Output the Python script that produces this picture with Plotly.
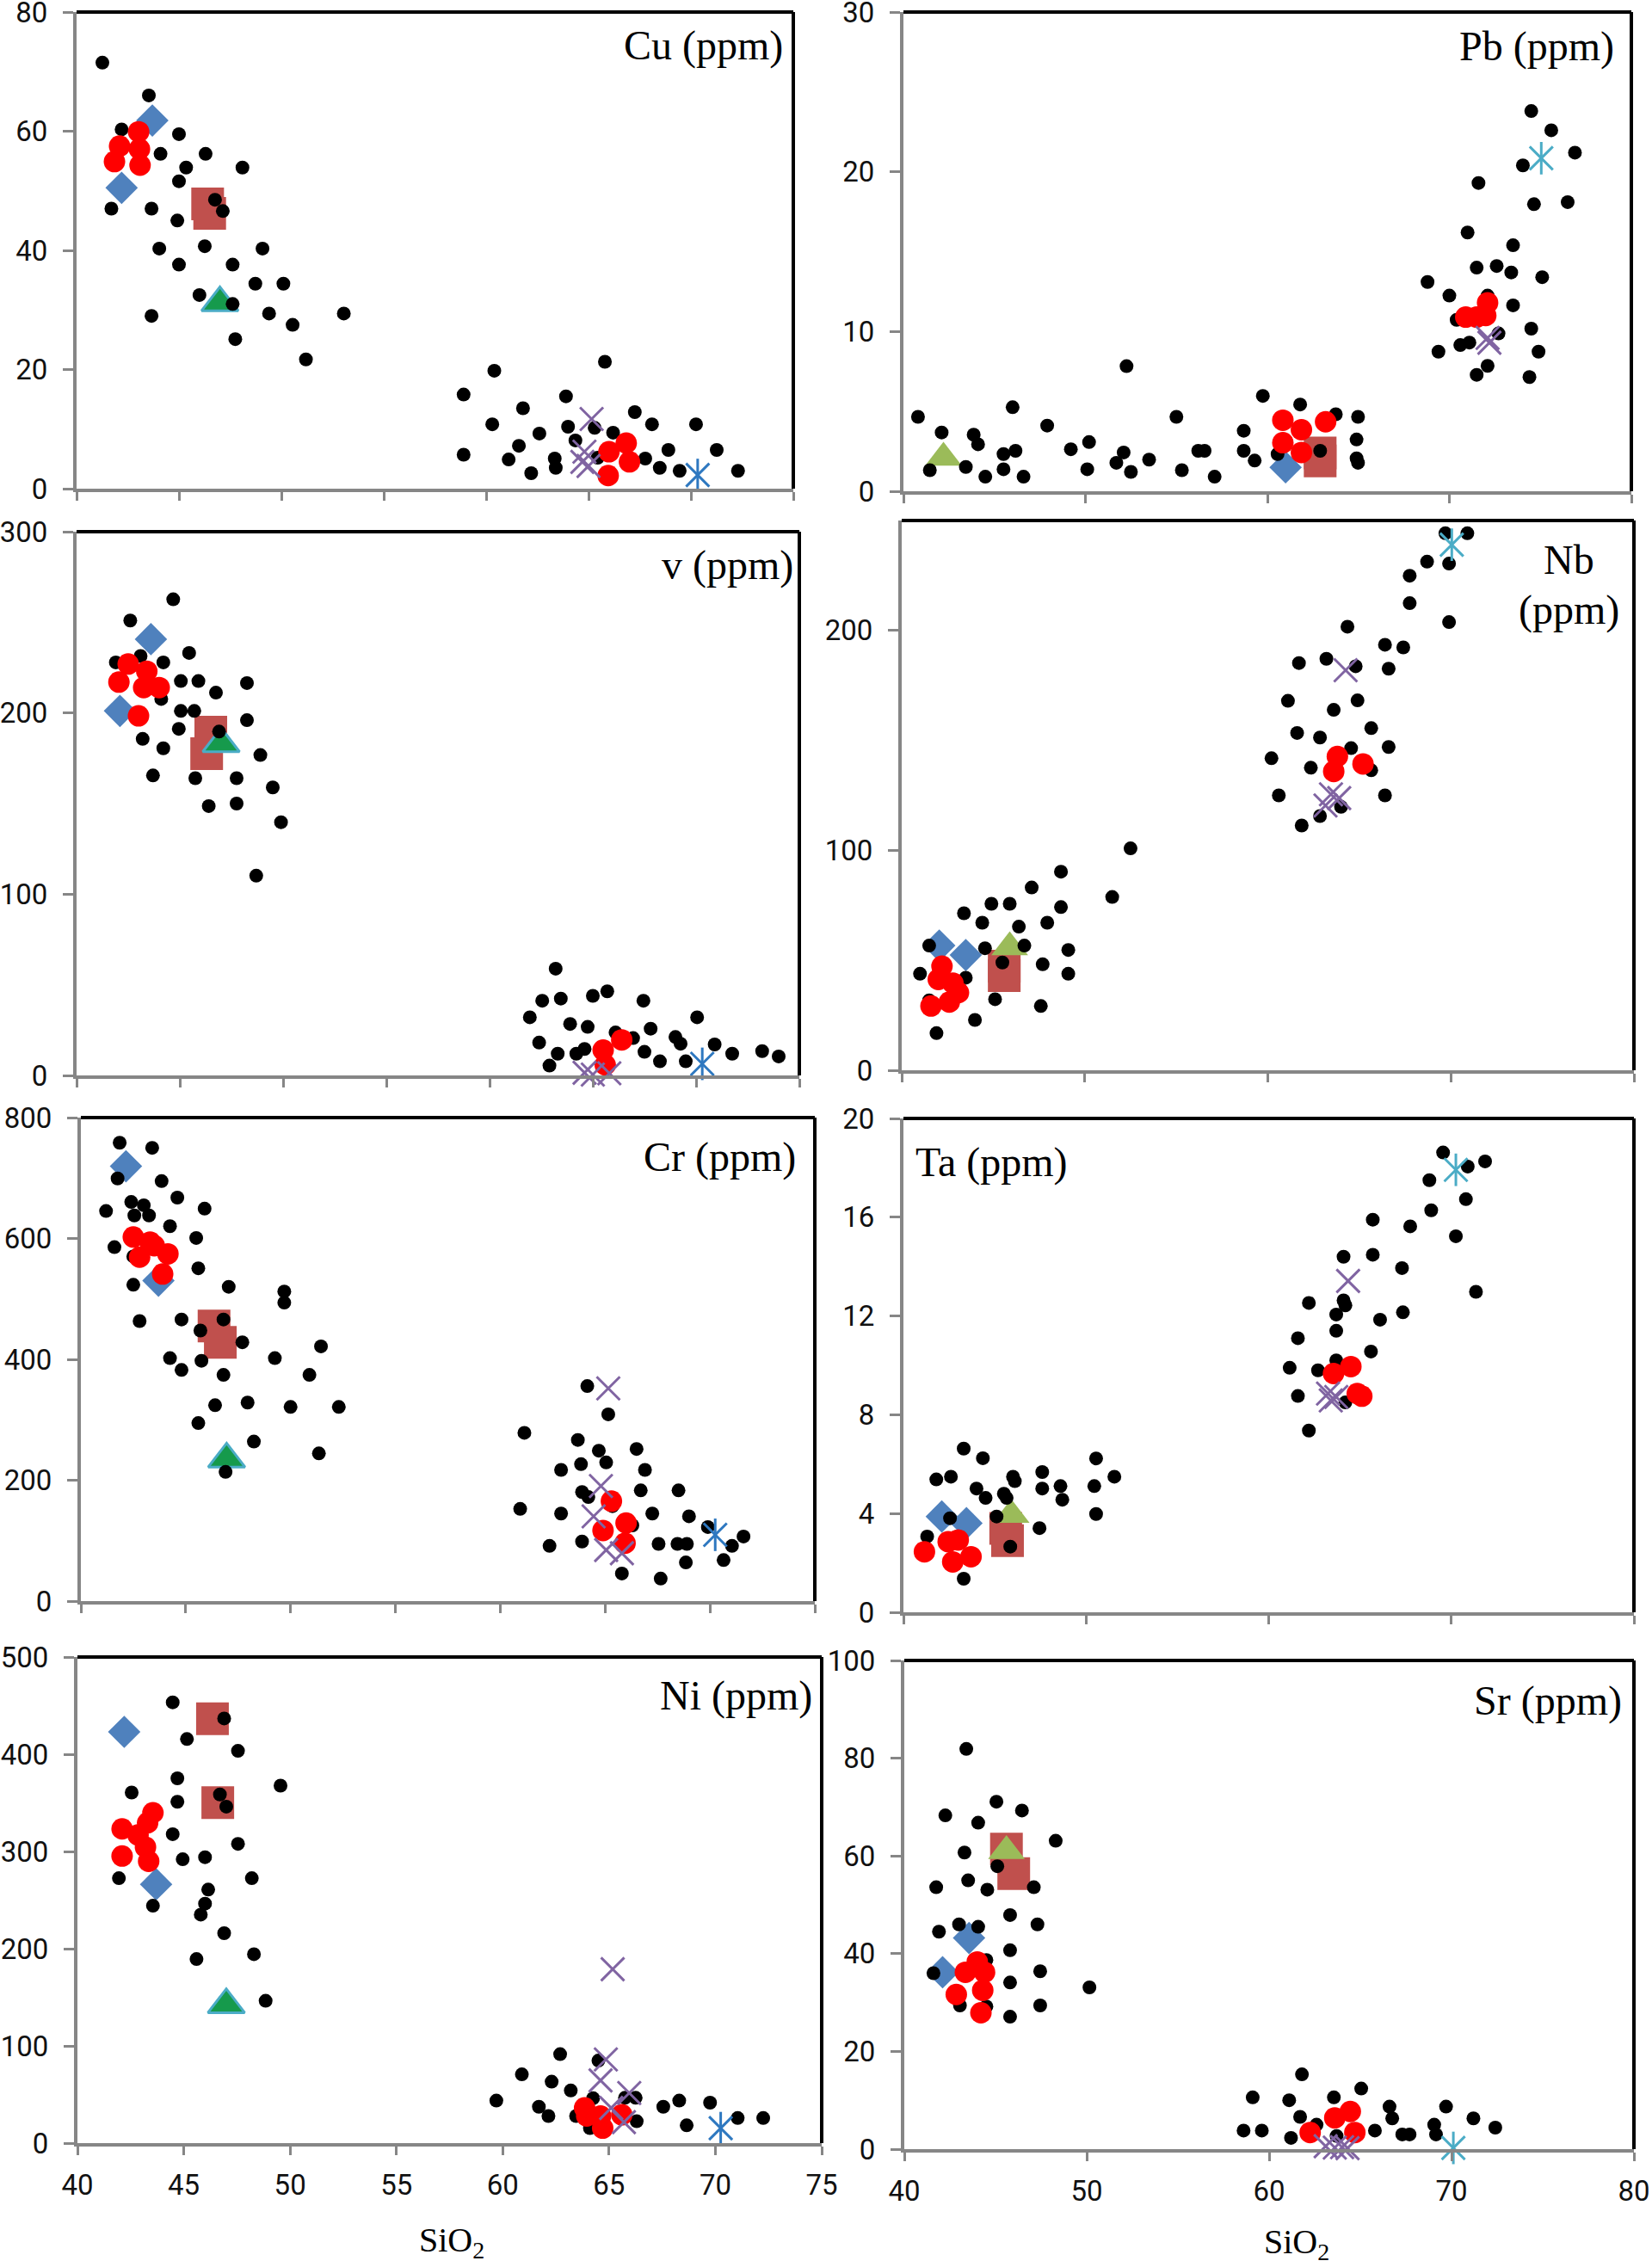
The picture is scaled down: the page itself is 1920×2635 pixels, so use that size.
import plotly.graph_objects as go

# ---------------- DATA (SiO2, ppm) ----------------
CU_DOTS = [(41.26,71.5),(43.53,66.0),(42.2,60.3),(45.0,59.5),(44.1,56.2),(46.3,56.2),(45.35,53.9),(48.1,53.9),
           (45.0,51.6),(41.7,47.0),(43.66,47.0),(46.76,48.5),(47.14,46.6),(44.92,45.0),(44.04,40.3),(46.26,40.7),
           (49.08,40.3),(45.0,37.6),(47.62,37.6),(48.73,34.4),(50.1,34.4),(46.0,32.5),(47.62,31.0),(43.66,29.0),
           (49.4,29.4),(53.05,29.4),(50.55,27.5),(47.75,25.1),(51.2,21.7),
           (58.9,15.8),(60.4,19.8),(65.8,21.3),(63.9,15.5),(61.8,13.5),(60.3,10.8),(62.6,9.25),(64.0,10.4),
           (65.3,10.2),(66.2,9.4),(67.26,12.85),(68.1,10.8),(70.25,10.8),(61.6,7.2),(64.36,8.1),(58.9,5.7),
           (61.1,4.9),(63.35,5.05),(63.4,3.5),(62.2,2.6),(67.77,5.05),(68.9,6.5),(68.48,3.5),(69.45,3.0),
           (71.26,6.5),(72.3,3.0),(65.45,5.2)]
CU_RED = [(41.85,54.9),(42.1,57.5),(43.03,59.9),(43.1,54.3),(43.07,57.0),(66.0,6.2),(66.84,7.65),(67.0,4.5),(65.96,2.2)]
CU_DIAMOND = [(43.7,61.8),(42.2,50.5)]
CU_SQUARE = [(46.4,47.8),(46.5,46.2)]
CU_TRIANGLE = [(47.0,31.2)]
CU_X = [(65.15,11.7),(64.8,6.2),(64.7,4.5),(65.0,3.8)]
CU_STAR = [(70.33,2.3)]

PB_DOTS = [(40.8,4.66),(41.45,1.32),(42.1,3.68),(43.43,1.52),(43.86,3.54),(44.1,2.94),(44.5,0.91),(45.5,2.33),
           (45.5,1.38),(46.16,2.53),(46.0,5.26),(46.6,0.91),(47.9,4.11),(49.2,2.63),(50.2,3.08),(50.1,1.38),
           (51.7,1.78),(52.1,2.43),(52.5,1.21),(52.26,7.83),(53.5,1.98),(55.0,4.66),(55.3,1.32),(56.2,2.53),
           (56.55,2.53),(57.1,0.91),(58.7,3.79),(58.7,2.53),(59.3,1.92),(59.75,5.97),(60.56,2.33),(61.8,5.43),
           (62.9,2.53),(63.76,4.82),(64.98,4.66),(64.9,3.24),(64.9,2.06),(64.98,1.78),
           (74.5,23.8),(75.6,22.6),(76.9,21.2),(74.04,20.4),(71.6,19.3),(74.65,17.97),(76.5,18.1),(71.0,16.2),
           (73.5,15.4),(71.5,14.0),(72.6,14.1),(73.4,13.7),(75.1,13.4),(68.8,13.1),(70.0,12.25),(72.1,12.25),
           (73.5,11.64),(70.4,10.73),(74.5,10.18),(72.7,9.88),(70.6,9.15),(71.1,9.31),(69.4,8.74),(74.9,8.74),
           (72.1,7.85),(71.5,7.29),(74.4,7.15)]
PB_RED = [(60.85,4.45),(60.85,3.04),(61.87,3.85),(61.87,2.43),(63.2,4.35),(70.9,10.9),(71.5,10.9),(72.1,11.8),(72.0,11.0)]
PB_DIAMOND = [(61.0,1.5)]
PB_SQUARE = [(62.9,2.4),(62.9,1.9)]
PB_TRIANGLE = [(42.2,2.1)]
PB_X = [(72.1,9.6),(72.2,9.3)]
PB_STAR = [(75.05,20.85)]

V_DOTS = [(44.68,262.7),(42.6,251.0),(41.9,227.9),(43.1,231.4),(44.2,227.9),(45.45,233.1),(45.05,217.6),(45.9,217.6),
          (46.75,211.2),(48.25,216.5),(44.1,207.7),(45.05,201.1),(45.7,201.1),(44.95,191.2),(46.9,189.7),(48.25,196.0),
          (43.2,185.7),(44.2,180.5),(48.9,176.8),(43.7,165.5),(45.75,164.0),(47.75,164.0),(49.5,158.9),(46.4,148.6),
          (47.75,150.0),(49.9,139.7),(48.7,110.2),
          (63.2,58.9),(62.55,41.2),(63.45,42.4),(65.0,43.9),(65.7,46.4),(67.45,41.2),(61.95,32.1),(63.9,28.4),
          (64.75,26.8),(70.05,32.1),(67.8,25.8),(66.1,23.7),(66.95,20.6),(69.0,21.2),(69.25,17.5),(70.9,17.1),
          (62.4,18.1),(63.3,12.0),(64.2,12.0),(64.6,14.6),(67.5,13.0),(68.25,7.8),(69.5,7.8),(71.75,12.0),
          (73.2,13.4),(74.0,10.5),(62.9,5.4)]
V_RED = [(42.05,217),(42.5,227),(43.4,223),(43.25,214),(44.0,214),(43.0,198.4),(65.5,14),(65.6,5.8),(66.4,19.6)]
V_DIAMOND = [(43.6,240.7),(42.1,201.1)]
V_SQUARE = [(46.5,189.4),(46.3,177.5)]
V_TRIANGLE = [(47.0,183.0)]
V_X = [(64.6,1.5),(65.0,0.5),(65.8,1.2)]
V_STAR = [(70.3,6.4)]

NB_DOTS = [(69.7,244.2),(70.9,244.2),(68.7,231.3),(69.9,230.4),(67.75,224.9),(67.75,212.4),(69.9,203.8),(64.35,201.7),
           (66.4,193.5),(67.4,192.3),(61.7,185.2),(63.2,187.1),(64.8,183.7),(66.6,182.6),(61.1,168.0),(64.9,168.2),
           (63.6,163.9),(65.65,155.6),(61.6,153.4),(62.85,151.3),(64.55,146.5),(66.6,147.0),(60.2,141.9),(62.35,137.6),
           (65.65,136.4),(60.6,125.0),(66.4,125.0),(64.0,119.8),(62.85,115.6),(61.85,111.3),
           (52.5,100.9),(51.5,78.8),(48.7,90.3),(47.1,83.1),(44.9,75.7),(45.9,75.7),(43.4,71.4),(48.7,74.2),
           (44.4,67.1),(46.4,65.3),(47.95,67.1),(41.5,56.7),(44.55,55.5),(46.7,56.7),(49.1,54.7),(45.5,49.0),
           (47.7,48.2),(41.0,43.9),(43.5,42.1),(49.1,43.9),(45.1,32.3),(47.6,29.2),(44.0,22.9),(41.9,16.9),(41.5,31.8)]
NB_RED = [(42.2,47.3),(42.0,41.3),(42.8,39.6),(43.1,35.3),(41.6,29.2),(42.6,31.0),(63.8,142.7),(63.6,135.9),(65.2,139.3)]
NB_DIAMOND = [(42.05,56.7),(43.5,52.4)]
NB_SQUARE = [(45.6,47.3),(45.6,43.0)]
NB_TRIANGLE = [(45.9,55.9)]
NB_X = [(64.25,181.9),(63.45,125.5),(63.15,120.4),(63.9,123.8)]
NB_STAR = [(70.05,239.0)]

CR_DOTS = [(41.85,758.4),(43.4,750.0),(41.75,699.3),(43.85,694.9),(44.6,667.6),(42.4,660.4),(43.0,654.9),(45.9,649.3),
           (41.2,645.4),(42.55,638.1),(43.25,638.1),(44.25,620.3),(45.5,600.8),(41.6,585.7),(42.5,570.2),(45.6,550.7),
           (42.5,523.4),(47.05,520.0),(49.7,512.2),(49.7,493.9),(42.8,463.3),(44.8,466.0),(46.8,466.0),(45.7,447.7),
           (47.7,428.2),(51.45,421.5),(44.25,402.0),(49.25,402.0),(45.75,397.6),(44.8,382.5),(46.8,374.2),(50.9,374.2),
           (46.4,324.1),(47.95,328.5),(50.0,321.3),(52.3,321.3),(45.6,294.5),(48.25,263.9),(51.35,244.4),(46.9,213.8),
           (64.15,355.8),(65.15,309.0),(61.15,278.4),(63.7,266.7),(64.7,248.9),(66.5,251.7),(63.85,226.6),(65.05,229.4),
           (62.9,217.1),(66.9,217.1),(63.9,180.4),(64.2,172.1),(66.7,183.2),(68.5,183.2),(60.95,152.6),(62.9,144.8),
           (65.35,157.0),(67.25,144.8),(69.0,140.3),(66.3,125.3),(69.9,122.5),(62.35,91.3),(63.9,98.6),(67.55,94.7),
           (68.45,94.7),(68.9,94.7),(71.05,91.3),(71.6,106.9),(68.85,64.0),(70.65,67.9),(65.8,45.7),(67.65,37.3)]
CR_RED = [(42.5,602.4),(43.3,594.1),(42.8,569.0),(44.15,574.5),(43.9,541.2),(43.5,588.0),
          (65.3,165.4),(64.9,116.9),(66.0,129.2),(65.95,95.8)]
CR_DIAMOND = [(42.15,719.4),(43.7,530.1)]
CR_SQUARE = [(46.35,455.0),(46.65,428.0)]
CR_TRIANGLE = [(46.95,235.0)]
CR_X = [(65.15,351.9),(64.8,190.4),(64.45,140.3),(65.05,84.6),(65.8,79.1)]
CR_STAR = [(70.25,109.7)]

TA_DOTS = [(69.55,18.62),(71.85,18.26),(70.9,18.05),(68.8,17.5),(70.8,16.73),(68.9,16.28),(65.7,15.9),(67.75,15.63),
           (70.25,15.23),(64.1,14.4),(65.7,14.48),(67.3,13.94),(71.35,12.98),(62.2,12.53),(64.1,12.63),(64.2,12.43),
           (63.7,12.06),(67.35,12.15),(66.1,11.85),(61.6,11.1),(63.7,11.4),(65.6,10.56),(61.15,9.9),(62.7,9.8),
           (63.7,10.2),(61.6,8.76),(64.2,8.5),(62.2,7.36),
           (43.3,6.63),(44.35,6.24),(50.55,6.23),(41.8,5.38),(42.6,5.49),(46.0,5.49),(46.1,5.31),(47.6,5.68),
           (47.6,5.01),(48.6,5.11),(51.55,5.49),(50.45,5.11),(44.0,5.01),(44.5,4.63),(45.5,4.8),(45.65,4.63),
           (48.7,4.56),(50.55,3.98),(42.55,3.81),(45.1,3.88),(47.45,3.41),(41.3,3.07),(45.85,2.66),(43.3,1.36)]
TA_RED = [(41.15,2.45),(42.45,2.86),(43.0,2.93),(42.7,2.04),(43.7,2.25),(63.55,9.67),(64.5,9.95),(64.85,8.86),(65.1,8.75)]
TA_DIAMOND = [(42.1,3.88),(43.45,3.61)]
TA_SQUARE = [(45.6,3.4),(45.7,2.9)]
TA_TRIANGLE = [(45.9,3.95)]
TA_X = [(64.35,13.42),(63.25,8.86),(63.7,8.72),(63.4,8.58)]
TA_STAR = [(70.25,17.92)]

NI_DOTS = [(44.48,453.4),(46.9,436.8),(45.15,415.6),(47.55,403.5),(44.7,375.2),(49.55,367.7),(42.55,360.6),(46.7,358.6),
           (47.0,346.1),(44.7,351.1),(44.48,317.8),(47.55,307.8),(46.0,294.1),(44.95,292.0),(41.95,272.5),(48.2,272.5),
           (46.15,260.8),(46.0,246.3),(43.55,244.2),(45.8,235.0),(46.9,215.9),(48.3,194.3),(45.6,189.3),(48.85,146.4),
           (62.7,91.5),(64.5,84.9),(60.9,70.7),(62.3,63.2),(63.2,54.1),(59.7,43.7),(64.25,46.2),(65.75,46.6),
           (66.25,46.6),(67.55,37.4),(68.3,43.7),(69.75,41.6),(61.7,37.4),(62.15,27.9),(63.45,27.9),(71.05,25.8),
           (72.25,25.8),(66.3,22.5),(68.65,18.3),(64.1,15.4)]
NI_RED = [(42.1,323.2),(42.1,295.3),(42.85,317.0),(43.3,329.4),(43.55,339.8),(43.35,289.9),(43.2,304.5),
          (63.85,36.2),(64.7,15.4),(64.6,27.9),(65.6,29.1),(63.95,27.9)]
NI_DIAMOND = [(42.2,423.0),(43.7,266.2)]
NI_SQUARE = [(46.35,436.4),(46.6,350.2)]
NI_TRIANGLE = [(47.0,142.3)]
NI_X = [(65.17,178.9),(64.85,86.1),(64.6,64.5),(65.95,51.6),(65.1,36.2),(65.7,21.6)]
NI_STAR = [(70.25,15.4)]

SR_DOTS = [(43.4,81.9),(45.05,71.1),(46.45,69.3),(42.25,68.3),(44.05,66.8),(48.3,63.1),(43.3,60.7),(45.1,57.9),
           (43.5,55.0),(41.75,53.6),(44.55,53.1),(47.1,53.6),(45.8,47.9),(43.0,46.0),(44.05,45.5),(47.3,46.0),
           (41.9,44.5),(45.8,40.7),(44.5,38.7),(41.6,36.0),(47.45,36.4),(45.8,34.1),(50.15,33.1),(43.05,29.4),
           (44.5,29.2),(47.45,29.4),(45.8,27.1),
           (61.8,15.3),(59.1,10.6),(61.1,10.0),(63.55,10.6),(65.05,12.4),(66.6,8.7),(69.7,8.7),(61.7,6.6),
           (66.75,6.3),(71.2,6.3),(62.6,5.0),(58.6,3.8),(59.6,3.8),(65.8,3.8),(69.05,5.0),(72.4,4.4),(61.2,2.3),
           (63.7,2.7),(67.3,3.0),(67.7,3.0),(69.15,3.0)]
SR_RED = [(42.85,31.65),(43.35,36.2),(44.0,38.3),(44.4,36.2),(44.3,32.5),(44.2,27.9),
          (62.25,3.4),(63.6,6.4),(64.45,7.7),(64.7,3.4)]
SR_DIAMOND = [(43.55,43.2),(42.1,36.2)]
SR_SQUARE = [(45.6,61.4),(46.0,56.4)]
SR_TRIANGLE = [(45.6,61.0)]
SR_X = [(63.1,0.6),(63.6,0.3),(64.0,0.4),(64.3,0.2)]
SR_STAR = [(70.1,0.25)]

# Titles / tick settings
TITLES = ["Cu (ppm)", "Pb (ppm)", "v (ppm)", "Nb", "Cr (ppm)", "Ta (ppm)", "Ni (ppm)", "Sr (ppm)"]
LEFT_X_TICKS = [40, 45, 50, 55, 60, 65, 70, 75]
RIGHT_X_TICKS = [40, 50, 60, 70, 80]

# ---------------- LAYOUT GEOMETRY (pixels) ----------------
W, H = 1920, 2635
panels = [
    (dict(d=CU_DOTS, r=CU_RED, dm=CU_DIAMOND, sq=CU_SQUARE, tr=CU_TRIANGLE, x=CU_X, st=CU_STAR), 89, 922, 14, 568, 80, 20, 'L', False),
    (dict(d=PB_DOTS, r=PB_RED, dm=PB_DIAMOND, sq=PB_SQUARE, tr=PB_TRIANGLE, x=PB_X, st=PB_STAR), 1050, 1896, 14, 571, 30, 10, 'R', False),
    (dict(d=V_DOTS, r=V_RED, dm=V_DIAMOND, sq=V_SQUARE, tr=V_TRIANGLE, x=V_X, st=V_STAR), 89, 929, 618, 1250, 300, 100, 'L', False),
    (dict(d=NB_DOTS, r=NB_RED, dm=NB_DIAMOND, sq=NB_SQUARE, tr=NB_TRIANGLE, x=NB_X, st=NB_STAR), 1048, 1899, 605, 1244, 250, 100, 'R', False),
    (dict(d=CR_DOTS, r=CR_RED, dm=CR_DIAMOND, sq=CR_SQUARE, tr=CR_TRIANGLE, x=CR_X, st=CR_STAR), 94, 947, 1299, 1861, 800, 200, 'L', False),
    (dict(d=TA_DOTS, r=TA_RED, dm=TA_DIAMOND, sq=TA_SQUARE, tr=TA_TRIANGLE, x=TA_X, st=TA_STAR), 1050, 1899, 1300, 1874, 20, 4, 'R', False),
    (dict(d=NI_DOTS, r=NI_RED, dm=NI_DIAMOND, sq=NI_SQUARE, tr=NI_TRIANGLE, x=NI_X, st=NI_STAR), 90, 955, 1926, 2491, 500, 100, 'L', True),
    (dict(d=SR_DOTS, r=SR_RED, dm=SR_DIAMOND, sq=SR_SQUARE, tr=SR_TRIANGLE, x=SR_X, st=SR_STAR), 1051, 1899, 1930, 2498, 100, 20, 'R', True),
]

C_DIAMOND = '#4F81BD'
C_SQUARE = '#C0504D'
C_TRI_L = '#169A4C'
C_TRI_L_LINE = '#4BACC6'
C_TRI_R = '#9BBB59'
C_X = '#8064A2'
C_STAR_L = '#2E78C0'
C_STAR_R = '#4BACC6'
AXIS_GRAY = '#868686'
TICK_FONT = dict(family="Roboto, Liberation Sans, Arial", size=33, color='#111111')
TITLE_FONT = dict(family="Liberation Serif, Times New Roman, serif", size=48, color='black')

fig = go.Figure()
layout = dict(width=W, height=H, margin=dict(l=0, r=0, t=0, b=0, autoexpand=False), paper_bgcolor='white',
              plot_bgcolor='white', showlegend=False)
shapes = []


def xs(p):
    return [a for a, b in p]


def ys(p):
    return [b for a, b in p]


for i, (dd, left, right, top, bottom, ymax, ydt, col, showx) in enumerate(panels, start=1):
    xa = 'x' if i == 1 else f'x{i}'
    ya = 'y' if i == 1 else f'y{i}'
    common = dict(xaxis=xa, yaxis=ya, mode='markers', cliponaxis=False, hoverinfo='skip')
    tri_color = C_TRI_L if col == 'L' else C_TRI_R
    tri_line = dict(color=C_TRI_L_LINE, width=3) if col == 'L' else dict(color=C_TRI_R, width=0)
    star_c = C_STAR_L if col == 'L' else C_STAR_R

    fig.add_trace(go.Scatter(x=xs(dd['sq']), y=ys(dd['sq']), marker=dict(symbol='square', size=38, color=C_SQUARE), **common))
    fig.add_trace(go.Scatter(x=xs(dd['dm']), y=ys(dd['dm']), marker=dict(symbol='diamond', size=29, color=C_DIAMOND), **common))
    fig.add_trace(go.Scatter(x=xs(dd['tr']), y=ys(dd['tr']), marker=dict(symbol='triangle-up', size=37, color=tri_color, line=tri_line), **common))
    fig.add_trace(go.Scatter(x=xs(dd['d']), y=ys(dd['d']), marker=dict(symbol='circle', size=16, color='black'), **common))
    fig.add_trace(go.Scatter(x=xs(dd['r']), y=ys(dd['r']), marker=dict(symbol='circle', size=25, color='#FF0000'), **common))
    fig.add_trace(go.Scatter(x=xs(dd['x']), y=ys(dd['x']), marker=dict(symbol='x-thin-open', size=27, color=C_X, line=dict(color=C_X, width=3)), **common))
    fig.add_trace(go.Scatter(x=xs(dd['st']), y=ys(dd['st']), marker=dict(symbol='x-thin-open', size=27, color=star_c, line=dict(color=star_c, width=3)), **common))
    fig.add_trace(go.Scatter(x=xs(dd['st']), y=ys(dd['st']), marker=dict(symbol='line-ns-open', size=27, color=star_c, line=dict(color=star_c, width=3)), **common))

    xticks = LEFT_X_TICKS if col == 'L' else RIGHT_X_TICKS
    xkey = 'xaxis' if i == 1 else f'xaxis{i}'
    ykey = 'yaxis' if i == 1 else f'yaxis{i}'
    layout[xkey] = dict(domain=[left / W, right / W], range=[xticks[0], xticks[-1]], tickvals=xticks,
                        ticktext=[str(t) for t in xticks], showticklabels=showx, automargin=False,
                        ticklabeloverflow='allow',
                        anchor=ya, showgrid=False, zeroline=False, showline=True, linecolor=AXIS_GRAY,
                        linewidth=4, ticks='outside', ticklen=10, tickwidth=3, tickcolor=AXIS_GRAY,
                        tickfont=TICK_FONT, ticklabelstandoff=6, fixedrange=True)
    yticks = list(range(0, ymax + 1, ydt))
    layout[ykey] = dict(domain=[1 - bottom / H, 1 - top / H], range=[0, ymax], tickvals=yticks,
                        ticktext=[str(t) for t in yticks], anchor=xa, showgrid=False, zeroline=False,
                        automargin=False, ticklabeloverflow='allow',
                        showline=True, linecolor=AXIS_GRAY, linewidth=4, ticks='outside', ticklen=12,
                        tickwidth=3, tickcolor=AXIS_GRAY, tickfont=TICK_FONT, ticklabelstandoff=11,
                        fixedrange=True)
    shapes.append(dict(type='line', xref=f'{xa} domain', yref=f'{ya} domain', x0=0, x1=1, y0=1, y1=1,
                       line=dict(color='black', width=4)))
    shapes.append(dict(type='line', xref=f'{xa} domain', yref=f'{ya} domain', x0=1, x1=1, y0=0, y1=1,
                       line=dict(color='black', width=4)))

layout['shapes'] = shapes


def ann(text, px, py, xanchor='right', font=TITLE_FONT):
    return dict(text=text, x=px / W, y=1 - py / H, xref='paper', yref='paper', xanchor=xanchor,
                yanchor='middle', showarrow=False, font=font)


SIO2_FONT = dict(family="Liberation Serif, Times New Roman, serif", size=40, color='black')
annotations = [
    ann(TITLES[0], 912, 53),
    ann(TITLES[1], 1878, 54),
    ann(TITLES[2], 924, 657),
    ann(TITLES[3], 1823, 650, 'center'),
    ann("(ppm)", 1823, 709, 'center'),
    ann(TITLES[4], 927, 1345),
    ann(TITLES[5], 1062, 1351, 'left'),
    ann(TITLES[6], 946, 1971),
    ann(TITLES[7], 1887, 1977),
    ann("SiO<sub>2</sub>", 525, 2606, 'center', SIO2_FONT),
    ann("SiO<sub>2</sub>", 1507, 2608, 'center', SIO2_FONT),
]
layout['annotations'] = annotations
fig.update_layout(**layout)
fig.write_html("out.html")
